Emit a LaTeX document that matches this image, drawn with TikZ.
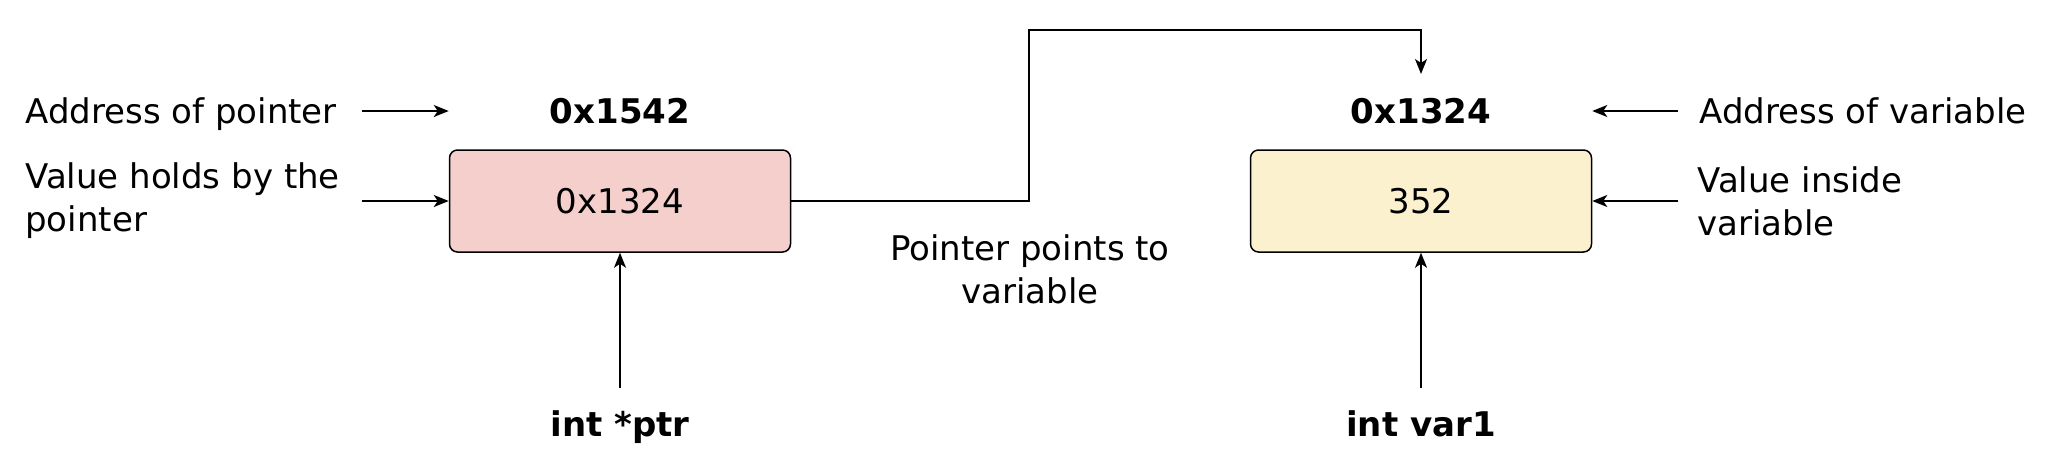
\documentclass[tikz,border=0pt]{standalone}
\usepackage{fontspec}
\setmainfont{DejaVu Sans}
\usetikzlibrary{arrows.meta,calc}
\definecolor{pinkfill}{HTML}{F4CFCC}
\definecolor{yellowfill}{HTML}{FCF1CF}
\tikzset{
  txt/.style={inner sep=0pt,font=\fontsize{17}{21.5}\selectfont},
  one/.style={text height=12.4pt,text depth=0pt},
  btxt/.style={inner sep=0pt,text height=12.4pt,text depth=0pt,font=\fontsize{17}{21.5}\selectfont\bfseries},
  membox/.style={draw=black,line width=0.75pt,rounded corners=4pt,minimum width=170.5pt,minimum height=51pt,inner sep=0pt,font=\fontsize{17}{21.5}\selectfont},
  arr/.style={line width=0.9pt,-{Stealth[length=7.5pt,width=6pt,inset=2pt]}}
}
\begin{document}
\begin{tikzpicture}[x=0.5pt,y=-0.5pt]
\useasboundingbox (0,0) rectangle (2048,472);
% boxes
\node[membox,fill=pinkfill] (lbox) at (620,201) {0x1324};
\node[membox,fill=yellowfill] (rbox) at (1421,201) {352};
% addresses
\node[btxt] (addrL) at (620,111) {0x1542};
\node[btxt] (addrR) at (1421,111) {0x1324};
% types
\node[btxt] (ptrtype) at (620,424) {int *ptr};
\node[btxt] (vartype) at (1421,424) {int var1};
% side labels
\node[txt,one,anchor=west] (lab1) at (25,111) {Address of pointer};
\node[txt,anchor=west,align=left] (lab2) at (25,201) {Value holds by the\\pointer};
\node[txt,one,anchor=west] (lab3) at (1699,111) {Address of variable};
\node[txt,anchor=west,align=left] (lab4) at (1697,201) {Value inside\\variable};
\node[txt,align=center] (note) at (1030,269) {Pointer points to\\variable};
% arrow end points
\coordinate (a1) at (362,111);
\coordinate (a2) at (362,201);
\coordinate (a3) at (1678,111);
\coordinate (a4) at (1678,201);
\coordinate (p1) at (620,388);
\coordinate (p2) at (1421,388);
\coordinate (bend1) at (1029,201);
\coordinate (bend2) at (1029,30);
\coordinate (bend3) at (1421,30);
\coordinate (tip) at (1421,74);
% arrows
\draw[arr] (a1) -- (a1 -| lbox.west);
\draw[arr] (a2) -- (lbox.west);
\draw[arr] (a3) -- (a3 -| rbox.east);
\draw[arr] (a4) -- (rbox.east);
\draw[arr] (p1) -- (lbox.south);
\draw[arr] (p2) -- (rbox.south);
\draw[arr] (lbox.east) -- (bend1) -- (bend2) -- (bend3) -- (tip);
\end{tikzpicture}
\end{document}
